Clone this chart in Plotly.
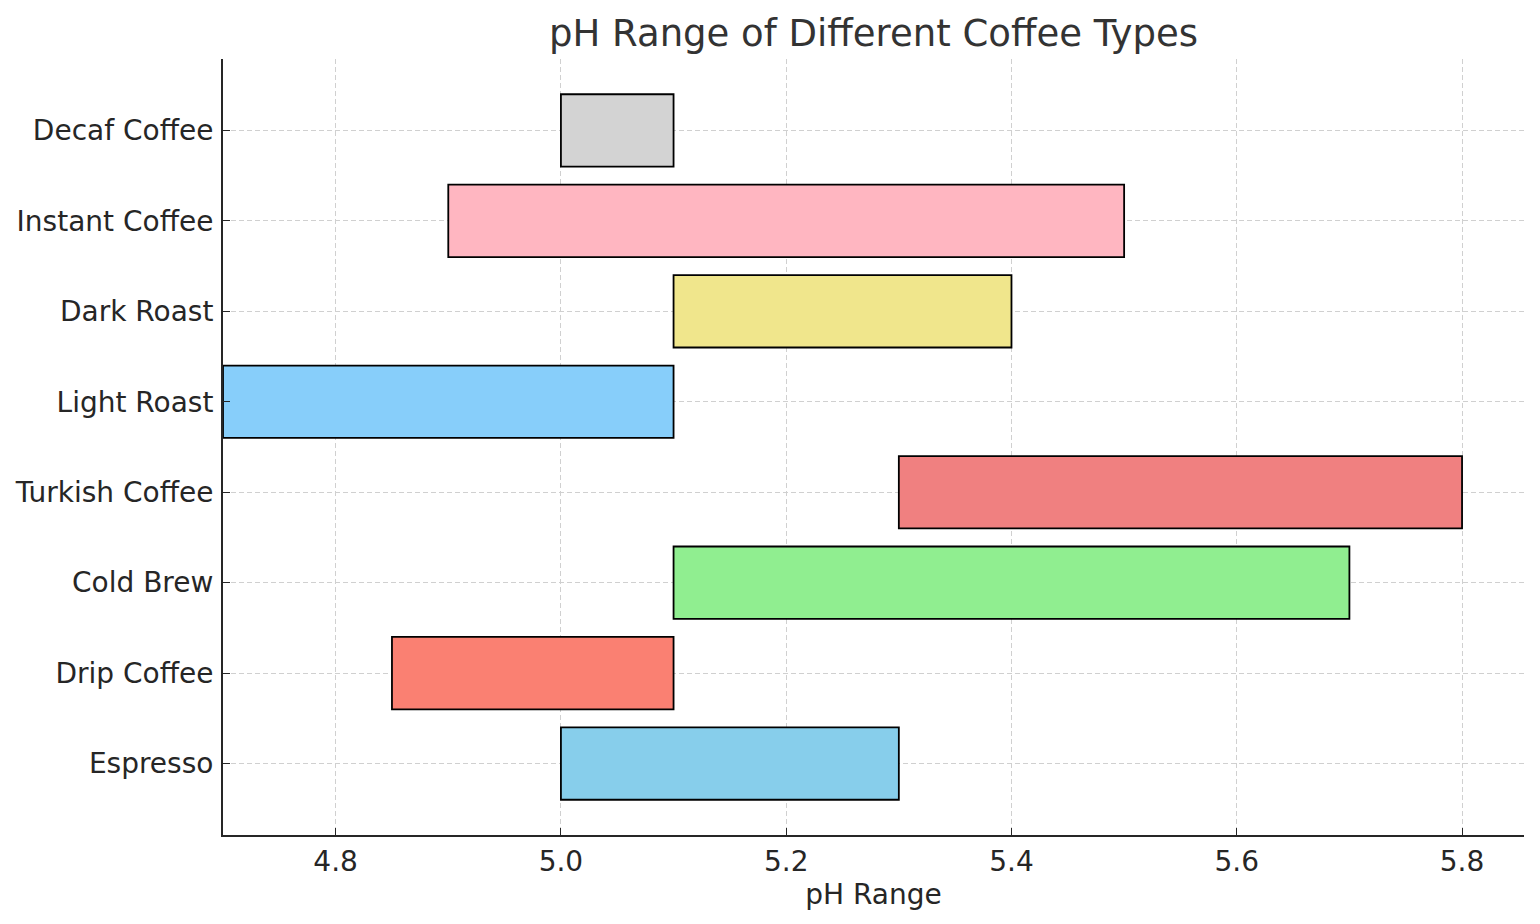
import plotly.graph_objects as go

coffee_types = ["Espresso", "Drip Coffee", "Cold Brew", "Turkish Coffee",
                "Light Roast", "Dark Roast", "Instant Coffee", "Decaf Coffee"]
ph_low = [5.0, 4.85, 5.1, 5.3, 4.7, 5.1, 4.9, 5.0]
ph_high = [5.3, 5.1, 5.7, 5.8, 5.1, 5.4, 5.5, 5.1]
colors = ["#87CEEB", "#FA8072", "#90EE90", "#F08080",
          "#87CEFA", "#F0E68C", "#FFB6C1", "#D3D3D3"]
x_ticks = [4.8, 5.0, 5.2, 5.4, 5.6, 5.8]
x_tick_labels = ["4.8", "5.0", "5.2", "5.4", "5.6", "5.8"]

widths = [h - l for l, h in zip(ph_low, ph_high)]

fig = go.Figure()
fig.add_trace(go.Bar(
    y=list(range(len(coffee_types))),
    x=widths,
    base=ph_low,
    orientation="h",
    width=0.8,
    marker=dict(color=colors, line=dict(color="black", width=1.8)),
    showlegend=False,
    hoverinfo="skip",
))

font_family = "DejaVu Sans"
W, H = 1532, 916
L = 215
fig.update_layout(
    width=W, height=H,
    paper_bgcolor="white", plot_bgcolor="white",
    margin=dict(l=L, r=16, t=51, b=89),
    font=dict(family=font_family, color="#262626", size=28),
    title=dict(text="pH Range of Different Coffee Types",
               x=(L + W - 16) / 2 / W,
               xanchor="center", y=1 - 25 / H, yanchor="middle", yref="container",
               font=dict(size=37, color="#333333", family=font_family)),
    bargap=0.2,
)
fig.update_xaxes(
    range=[4.7, 5.855], automargin=False,
    tickvals=x_ticks, ticktext=x_tick_labels,
    ticks="inside", ticklen=7, tickwidth=1.2, tickcolor="#262626",
    showline=True, linecolor="#262626", linewidth=2,
    showgrid=True, gridcolor="#d0d0d0", griddash="5px,3px", gridwidth=1,
    zeroline=False, mirror=False,
    title=dict(text="pH Range", font=dict(size=28, color="#262626"), standoff=6),
    tickfont=dict(size=28, color="#262626"),
)
fig.update_yaxes(
    range=[-0.79, 7.79], automargin=False,
    tickvals=list(range(len(coffee_types))), ticktext=coffee_types,
    ticks="inside", ticklen=7, tickwidth=1.2, tickcolor="#262626",
    showline=True, linecolor="#262626", linewidth=2,
    showgrid=True, gridcolor="#d0d0d0", griddash="5px,3px", gridwidth=1,
    zeroline=False, ticklabelstandoff=2,
    tickfont=dict(size=28, color="#262626"),
)

fig.write_html("out.html")
